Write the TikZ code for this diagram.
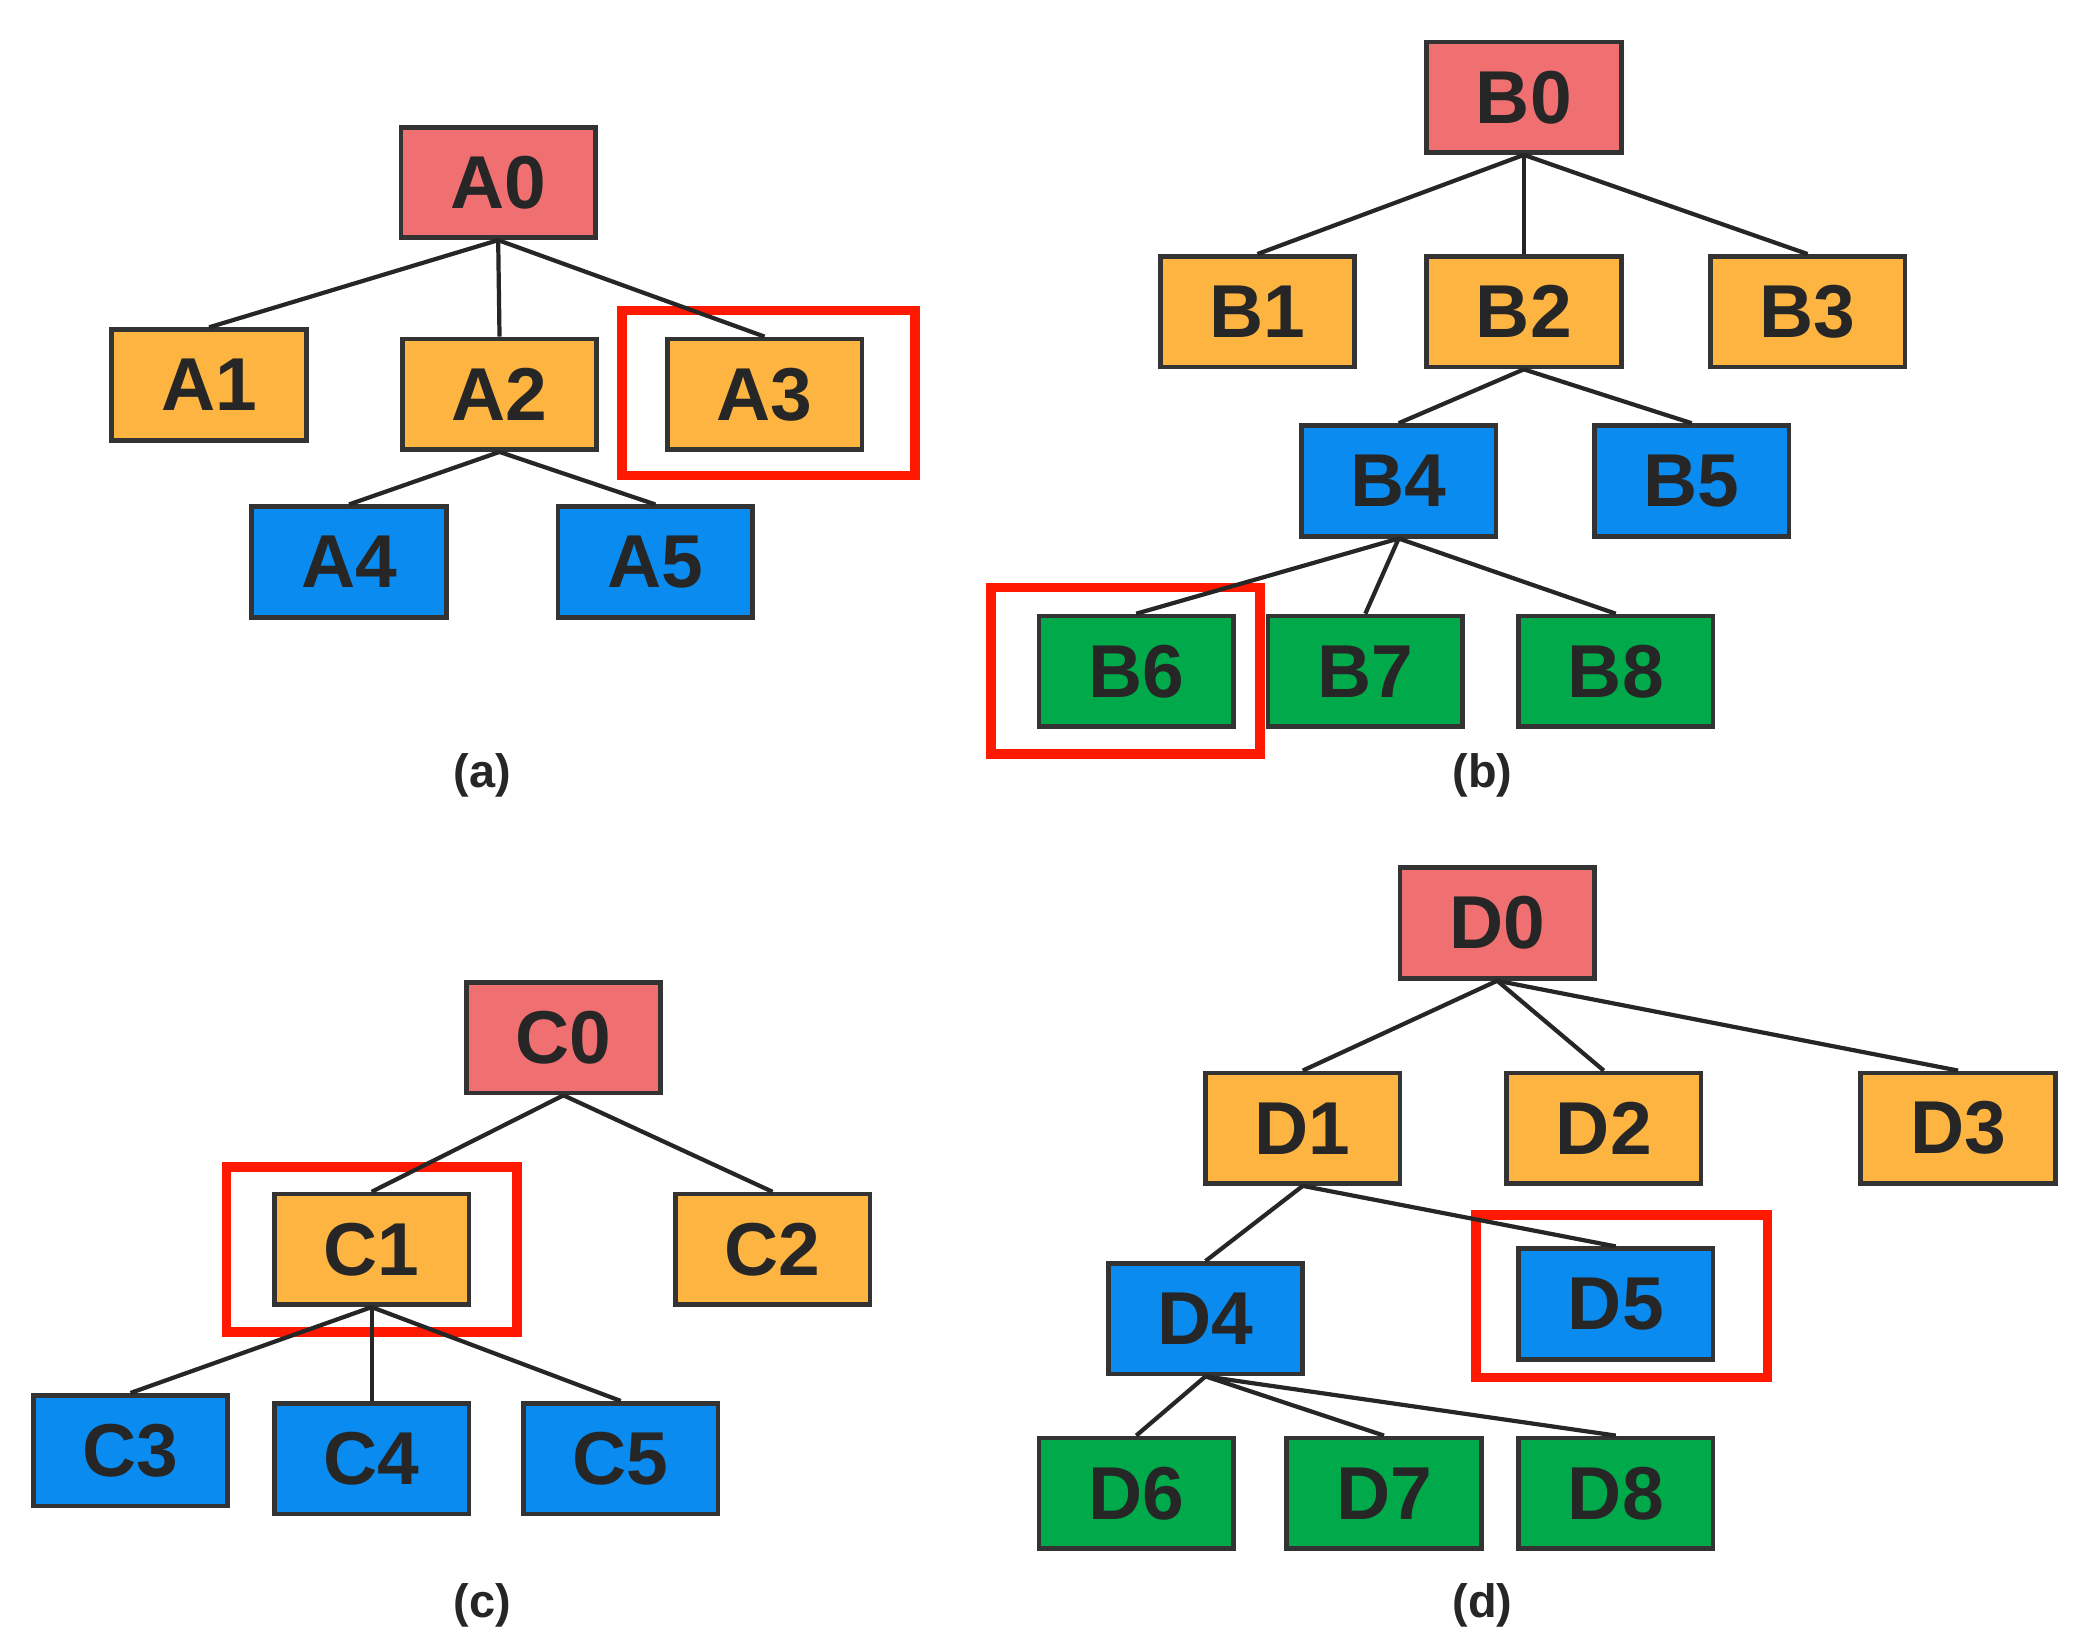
\documentclass[tikz,border=0pt]{standalone}
\usepackage{fontspec}
\setmainfont{Liberation Sans}
\definecolor{crt}{HTML}{F07072}\definecolor{cob}{HTML}{FDB441}\definecolor{cbb}{HTML}{0A8BEF}\definecolor{cgb}{HTML}{00AA4A}
\begin{document}
\begin{tikzpicture}[x=0.01cm,y=-0.01cm,
 bx/.style={draw=black!80,line width=1pt,minimum width=1.46cm,minimum height=0.83cm,inner sep=0pt,font=\fontsize{16}{16}\selectfont\bfseries,text=black!85},
 rt/.style={bx,fill=crt},
 ob/.style={bx,fill=cob},
 bb/.style={bx,fill=cbb},
 gb/.style={bx,fill=cgb},
 hl/.style={draw=red!80!orange,line width=2pt},
 ed/.style={draw=black!85,line width=0.9pt},
 captxt/.style={font=\fontsize{10}{10}\selectfont\bfseries,text=black!85}]
\useasboundingbox (0,0) rectangle (1560,1240);
% (a)
\node[rt] (A0) at (374,137) {A0};
\node[ob] (A1) at (157,289) {A1};
\node[ob] (A2) at (375,296) {A2};
\node[ob] (A3) at (574,296) {A3};
\node[bb] (A4) at (262,422) {A4};
\node[bb] (A5) at (492,422) {A5};
\draw[hl] (467,233) rectangle (687,357);
\foreach \c in {A1,A2,A3} \draw[ed] (A0.south) -- (\c.north);
\foreach \c in {A4,A5} \draw[ed] (A2.south) -- (\c.north);
\node[captxt] (la) at (362,582) {(a)};
% (b)
\node[rt] (B0) at (1144,73) {B0};
\node[ob] (B1) at (944,234) {B1};
\node[ob] (B2) at (1144,234) {B2};
\node[ob] (B3) at (1357,234) {B3};
\node[bb] (B4) at (1050,361) {B4};
\node[bb] (B5) at (1270,361) {B5};
\node[gb] (B6) at (853,504) {B6};
\node[gb] (B7) at (1025,504) {B7};
\node[gb] (B8) at (1213,504) {B8};
\draw[hl] (744,441) rectangle (946,566);
\foreach \c in {B1,B2,B3} \draw[ed] (B0.south) -- (\c.north);
\foreach \c in {B4,B5} \draw[ed] (B2.south) -- (\c.north);
\foreach \c in {B6,B7,B8} \draw[ed] (B4.south) -- (\c.north);
\node[captxt] (lb) at (1113,582) {(b)};
% (c)
\node[rt] (C0) at (423,779) {C0};
\node[ob] (C1) at (279,938) {C1};
\node[ob] (C2) at (580,938) {C2};
\node[bb] (C3) at (98,1089) {C3};
\node[bb] (C4) at (279,1095) {C4};
\node[bb] (C5) at (466,1095) {C5};
\draw[hl] (170,876) rectangle (388,1000);
\foreach \c in {C1,C2} \draw[ed] (C0.south) -- (\c.north);
\foreach \c in {C3,C4,C5} \draw[ed] (C1.south) -- (\c.north);
\node[captxt] (lc) at (362,1205) {(c)};
% (d)
\node[rt] (D0) at (1124,693) {D0};
\node[ob] (D1) at (978,847) {D1};
\node[ob] (D2) at (1204,847) {D2};
\node[ob] (D3) at (1470,847) {D3};
\node[bb] (D4) at (905,990) {D4};
\node[bb] (D5) at (1213,979) {D5};
\node[gb] (D6) at (853,1121) {D6};
\node[gb] (D7) at (1039,1121) {D7};
\node[gb] (D8) at (1213,1121) {D8};
\draw[hl] (1108,912) rectangle (1327,1034);
\foreach \c in {D1,D2,D3} \draw[ed] (D0.south) -- (\c.north);
\foreach \c in {D4,D5} \draw[ed] (D1.south) -- (\c.north);
\foreach \c in {D6,D7,D8} \draw[ed] (D4.south) -- (\c.north);
\node[captxt] (ld) at (1113,1205) {(d)};
\end{tikzpicture}
\end{document}
